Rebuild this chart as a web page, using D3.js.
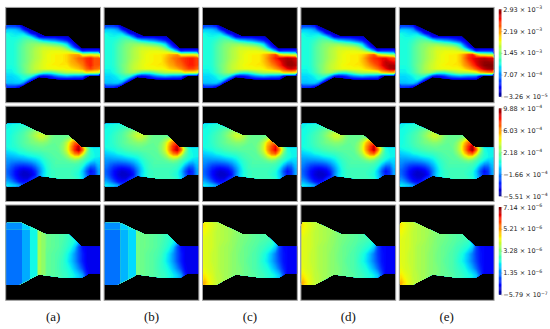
<!DOCTYPE html>
<html><head><meta charset="utf-8">
<script src="https://cdn.jsdelivr.net/npm/d3@7"></script>
<style>html,body{margin:0;background:#fff}svg{display:block}</style>
</head><body><svg id="c" width="550" height="329"></svg>
<script>
// All field values are percent of the colourbar range.
const captions = ["(a)","(b)","(c)","(d)","(e)"];
const ductOutline = [[0,.185],[.16,.185],[.42,.305],[.66,.305],[.8,.435],[1,.435],[1,.72],[.88,.72],[.81,.76],[.59,.76],[.35,.73],[.14,.84],[0,.84]];
const row1Ticks = [2.93e-3,2.19e-3,1.45e-3,7.07e-4,-3.26e-5];
const row2Ticks = [9.88e-4,6.03e-4,2.18e-4,-1.66e-4,-5.51e-4];
const row3Ticks = [7.14e-6,5.21e-6,3.28e-6,1.35e-6,-5.79e-7];

const row1Base = [
[18,18,17,14,5,5,5,5,5,5,5,5,5,5,5,5,5,5,5,5,5,5,5,5],
[33,33,32,28,16,8,5,5,5,5,5,5,5,5,5,5,5,5,5,5,5,5,5,5],
[37,36,35,35,34,24,12,8,5,5,5,5,5,5,5,5,5,5,5,5,5,5,5,5],
[38,37,37,38,40,40,35,24,12,9,9,9,9,8,8,7,5,5,5,5,5,5,5,5],
[38,38,39,41,44,46,46,44,38,33,31,28,26,22,18,14,9,5,5,5,5,5,5,5],
[38,38,40,43,46,49,51,52,52,52,50,48,46,43,39,33,18,8,5,5,5,5,5,5],
[38,38,40,44,47,50,52,55,57,59,59,59,58,57,54,46,32,18,8,5,5,5,5,5],
[38,38,40,44,47,50,53,56,58,61,62,63,63,63,62,60,54,44,30,14,16,16,16,16],
[38,38,40,44,47,50,53,56,58,61,63,64,65,65,66,0,0,0,0,0,0,0,0,0],
[38,38,40,44,47,50,53,56,58,61,63,64,65,65,66,0,0,0,0,0,0,0,0,0],
[38,38,40,44,47,50,54,57,59,62,63,64,65,65,66,0,0,0,0,0,0,0,0,0],
[38,38,40,44,48,51,55,58,60,62,64,65,65,66,66,0,0,0,0,0,0,0,0,0],
[37,37,39,43,47,51,55,58,60,62,63,63,64,64,64,0,0,0,0,0,0,0,0,0],
[36,36,38,42,46,50,53,54,50,44,42,42,46,50,54,0,0,0,0,0,0,0,0,0],
[34,34,35,37,40,42,40,28,14,10,12,16,22,26,28,30,28,26,26,24,8,5,5,5],
[33,33,34,35,38,32,16,7,5,5,5,6,6,6,6,6,6,6,6,6,5,5,5,5],
[31,31,32,32,25,7,5,5,5,5,5,5,5,5,5,5,5,5,5,5,5,5,5,5],
[16,16,15,10,5,5,5,5,5,5,5,5,5,5,5,5,5,5,5,5,5,5,5,5]];
// hot-zone values, rows 8-13, columns 15-23, per panel
const row1HotA = [[68,72,74,74,60,60,62,60,60],[68,72,76,80,82,86,88,82,82],[68,72,74,78,80,86,88,82,82],[66,70,72,74,78,84,88,82,82],[65,66,68,70,74,80,84,80,78],[56,56,56,56,56,66,62,62,60]];
const row1HotB = [[68,72,74,76,62,62,62,62,60],[70,74,78,80,84,86,88,88,84],[70,74,76,80,82,86,88,88,84],[68,72,74,78,80,84,88,88,84],[65,68,70,72,76,80,84,84,80],[56,56,56,56,56,66,64,64,62]];
const row1HotC = [[70,74,80,84,66,60,60,56,56],[70,76,82,88,92,94,96,95,92],[70,74,80,84,88,94,97,98,94],[68,72,76,80,86,92,97,98,96],[65,68,70,74,78,84,90,93,90],[56,56,56,56,56,68,68,68,66]];
const row1HotD = [[68,72,78,82,66,58,56,52,50],[70,76,82,86,88,90,90,86,84],[70,74,80,84,86,90,94,92,90],[68,72,76,80,84,90,94,97,96],[65,68,70,74,78,84,90,95,96],[56,56,56,56,56,68,70,72,72]];
const row1HotE = [[70,76,84,88,72,60,58,56,54],[70,78,86,90,92,94,95,93,92],[70,76,82,88,92,96,98,98,97],[68,74,78,84,90,95,99,100,100],[65,68,72,76,82,88,94,97,98],[56,56,56,58,60,70,72,76,76]];

const row2Base = [
[36,37,38,39,40,41,42,43,44,45,45,45,45,45,45,45,45,45,40,38,38,38,38,38],
[37,38,39,40,42,44,46,48,50,50,48,47,47,47,47,47,47,47,42,38,38,38,38,38],
[37,38,40,42,44,47,50,54,57,56,52,48,47,47,47,47,49,52,44,38,38,38,38,38],
[37,39,41,43,45,48,52,56,60,60,56,50,48,47,47,47,50,55,50,38,38,38,38,38],
[37,39,41,43,45,47,50,53,56,56,53,49,47,47,48,52,58,70,72,45,38,38,38,38],
[37,39,41,43,45,47,49,50,51,51,50,48,47,47,51,58,70,78,84,60,40,38,37,37],
[38,39,40,42,44,45,46,47,48,48,47,46,46,48,52,60,74,84,94,76,52,38,36,36],
[36,37,38,40,41,43,44,45,45,46,46,46,46,47,52,60,74,86,96,80,54,39,36,36],
[33,34,35,37,38,39,40,41,42,43,44,45,45,46,50,56,68,78,82,66,48,40,37,36],
[30,30,31,32,33,35,36,37,38,41,43,44,45,45,47,51,58,63,62,52,44,39,37,36],
[27,26,26,26,27,28,30,32,35,38,41,43,44,45,45,46,48,50,48,44,40,36,33,34],
[25,22,20,19,19,20,22,26,31,36,40,42,44,44,44,44,44,44,43,40,34,27,26,32],
[23,19,15,13,12,13,15,20,27,34,39,42,43,43,43,43,43,42,41,36,26,18,20,30],
[21,17,12,9,7,8,10,15,24,33,38,41,42,42,42,42,42,41,39,32,20,12,16,28],
[22,17,12,8,6,6,8,13,25,34,38,41,42,42,42,42,42,40,38,33,22,14,16,28],
[25,20,14,10,8,8,14,18,25,34,38,41,42,42,42,42,42,42,40,34,26,20,20,28],
[30,26,20,14,12,14,18,22,28,34,38,41,42,42,42,42,42,42,40,34,28,24,24,28],
[36,34,32,28,20,20,22,24,30,34,38,41,42,42,42,42,42,42,40,34,28,24,24,28]];
// hot-spot values, rows 5-7, columns 17-19, per panel
const row2PeakA = [[80,86,60],[86,94,76],[88,96,80]];
const row2PeakB = [[80,86,60],[86,93,76],[88,95,80]];
const row2PeakC = [[76,82,58],[82,90,72],[84,92,76]];
const row2PeakD = [[78,84,60],[84,93,74],[86,95,78]];
const row2PeakE = [[80,86,60],[86,96,76],[88,98,80]];

const row3Late = [
[66,63,61,59,57,56,55,54,53,51,50,49,48,47,46,45,44,42,40,38,36,34,34,34],
[64,62,60,58,57,56,55,54,52,51,50,49,47,46,45,44,44,43,41,38,36,34,34,34],
[62,61,60,58,57,56,55,53,52,50,49,48,47,46,45,44,43,42,38,30,24,20,20,20],
[62,61,60,58,56,55,54,53,51,50,48,47,46,45,43,42,40,38,33,18,12,11,10,10],
[62,61,59,58,56,55,54,52,51,49,48,47,45,44,42,39,36,31,24,17,13,11,10,10],
[62,61,59,58,56,55,54,52,51,49,48,46,45,44,41,38,35,30,24,18,13,11,10,10],
[63,61,60,58,56,55,54,52,51,50,48,47,45,44,42,40,38,34,29,22,15,11,10,10],
[66,63,61,58,57,55,54,52,51,50,48,47,46,45,43,42,40,38,36,32,20,10,10,10],
[72,66,62,59,57,55,54,52,51,50,48,47,46,45,43,42,40,38,36,32,20,10,10,10]];
const row3Early = [
[48,48,48,48,48,48,48,48,48,48,48,47,46,45,44,42,40,38,36,34,32,30,30,30],
[48,48,48,48,48,48,48,48,48,48,48,47,46,45,44,42,41,39,37,34,32,30,30,30],
[48,48,48,48,48,48,48,48,48,48,48,47,46,45,44,42,40,38,34,26,18,16,16,16],
[48,48,48,48,48,48,48,48,48,48,48,47,46,45,43,41,38,33,20,12,10,9,9,9],
[48,48,48,48,48,48,48,48,48,48,47,46,45,44,42,38,34,27,20,14,10,9,9,9],
[48,48,48,48,48,48,48,48,48,48,47,46,45,43,41,37,33,27,20,14,10,9,9,9],
[48,48,48,48,48,48,48,48,48,48,47,46,45,43,41,39,36,31,25,18,11,9,9,9],
[48,48,48,48,48,48,48,48,48,48,47,46,45,44,42,41,38,36,33,28,15,9,9,9],
[48,48,48,48,48,48,48,48,48,48,47,46,45,44,42,41,38,36,33,28,15,9,9,9]];
// stepped bands of the two early panels in row 3
const stripEdges = [0,.172,.256,.337,.38,.42];
const stripValuesA = [23,29,37,55,52];
const stripValuesB = [23,30,34,49,48];
const stripTopValuesA = [26,33,38,55,52];
const stripTopValuesB = [26,33,35,49,48];
const stripTopLimit = .26;

const jetStops = [0,11,34,37.5,64,66,89,91,100];
const jetColours = ["#00007f","#0000ff","#00dbff","#14ffe3","#f1fc06","#ffea00","#ff1300","#e30000","#7f0000"];
const jet = d3.scaleLinear().domain(jetStops).range(jetColours).clamp(true);

const patch = (base, hot, r0, c0) => base.map((row,j) => row.map((v,i) =>
  (j>=r0 && j<r0+hot.length && i>=c0 && i<c0+hot[0].length) ? hot[j-r0][i-c0] : v));

const fields = [
  [row1HotA,row1HotB,row1HotC,row1HotD,row1HotE].map(h => patch(row1Base,h,8,15)),
  [row2PeakA,row2PeakB,row2PeakC,row2PeakD,row2PeakE].map(h => patch(row2Base,h,5,17)),
  [row3Early,row3Early,row3Late,row3Late,row3Late]
];
const strips = {"2-0":[stripValuesA,stripTopValuesA],"2-1":[stripValuesB,stripTopValuesB]};

const svg = d3.select("#c");
const px = d3.scaleBand().domain(d3.range(5)).range([5.7,494.1]).paddingInner(.0366);
const py = d3.scaleBand().domain(d3.range(3)).range([7.4,300.3]).paddingInner(.0352);
const thresholds = d3.range(0,100,1);
const gridTop = .18, gridBottom = .85;

fields.forEach((rowFields,r) => rowFields.forEach((grid,c) => {
  const fx = d3.scaleLinear().domain([0,1]).range([px(c),px(c)+px.bandwidth()]);
  const fy = d3.scaleLinear().domain([0,1]).range([py(r),py(r)+py.bandwidth()]);
  const g = svg.append("g");
  g.append("rect").attr("x",fx(0)).attr("y",fy(0)).attr("width",px.bandwidth()).attr("height",py.bandwidth()).attr("fill","#000");
  const id = `duct-${r}-${c}`;
  g.append("clipPath").attr("id",id).append("path")
    .attr("d",d3.line().x(d=>fx(d[0])).y(d=>fy(d[1])).curve(d3.curveLinearClosed)(ductOutline));
  const inner = g.append("g").attr("clip-path",`url(#${id})`);
  const ny = grid.length, nx = grid[0].length;
  const gx = d3.scaleLinear().domain([0,nx]).range([fx(0),fx(1)]);
  const gy = d3.scaleLinear().domain([0,ny]).range([fy(gridTop),fy(gridBottom)]);
  const path = d3.geoPath(d3.geoTransform({point(x,y){this.stream.point(gx(x),gy(y));}}));
  const contours = d3.contours().size([nx,ny]).thresholds(thresholds)(grid.flat());
  inner.selectAll("path").data(contours).join("path")
    .attr("d",path).attr("fill",d=>jet(d.value+.5));
  const s = strips[`${r}-${c}`];
  if (s) {
    inner.selectAll("rect.s").data(s[0]).join("rect").attr("class","s")
      .attr("x",(d,i)=>fx(stripEdges[i])).attr("width",(d,i)=>fx(stripEdges[i+1])-fx(stripEdges[i]))
      .attr("y",fy(stripTopLimit)).attr("height",fy(.9)-fy(stripTopLimit)).attr("fill",d=>jet(d));
    inner.selectAll("rect.t").data(s[1]).join("rect").attr("class","t")
      .attr("x",(d,i)=>fx(stripEdges[i])).attr("width",(d,i)=>fx(stripEdges[i+1])-fx(stripEdges[i]))
      .attr("y",fy(.1)).attr("height",fy(stripTopLimit)-fy(.1)).attr("fill",d=>jet(d));
  }
  g.append("rect").attr("x",fx(0)).attr("y",fy(0)).attr("width",px.bandwidth()).attr("height",py.bandwidth())
    .attr("fill","none").attr("stroke","#a3a3a3").attr("stroke-width",1);
}));

// colourbars
const barRanges = [[9.3,96.5],[108.3,196],[207,294.5]];
[row1Ticks,row2Ticks,row3Ticks].forEach((ticks,r) => {
  const [y0,y1] = barRanges[r];
  const y = d3.scaleLinear().domain([ticks[4],ticks[0]]).range([y1,y0]);
  const pct = d3.scaleLinear().domain([0,100]).range([y1,y0]);
  const g = svg.append("g");
  g.selectAll("rect").data(d3.range(0,100)).join("rect")
    .attr("x",498.8).attr("width",2.6).attr("y",d=>pct(d+1)).attr("height",d=>pct(d)-pct(d+1)+.3).attr("fill",d=>jet(d+.5));
  const axis = g.append("g").attr("transform","translate(501.4,0)")
    .call(d3.axisRight(y).tickValues(ticks).tickSize(1).tickPadding(.8));
  axis.select(".domain").remove();
  axis.selectAll(".tick line").attr("stroke","#555").attr("stroke-width",.4);
  axis.selectAll(".tick text").each(function(d){
    const [m,e] = d3.format(".2e")(Math.abs(d)).split("e");
    const t = d3.select(this).attr("font-family","'DejaVu Sans'").attr("font-size",6.5).attr("fill","#222").text(null);
    t.append("tspan").text(`${d<0?"\u2212":""}${m} \u00d7 10`);
    t.append("tspan").attr("font-size",4.6).attr("dy",-2.5).text(`\u2212${Math.abs(+e)}`);
  });
});

svg.selectAll("text.cap").data(captions).join("text").attr("class","cap")
  .attr("x",(d,i)=>px(i)+px.bandwidth()/2).attr("y",321).attr("text-anchor","middle")
  .attr("font-family","'Liberation Serif'").attr("font-size",13).attr("fill","#111").text(d=>d);
</script></body></html>
